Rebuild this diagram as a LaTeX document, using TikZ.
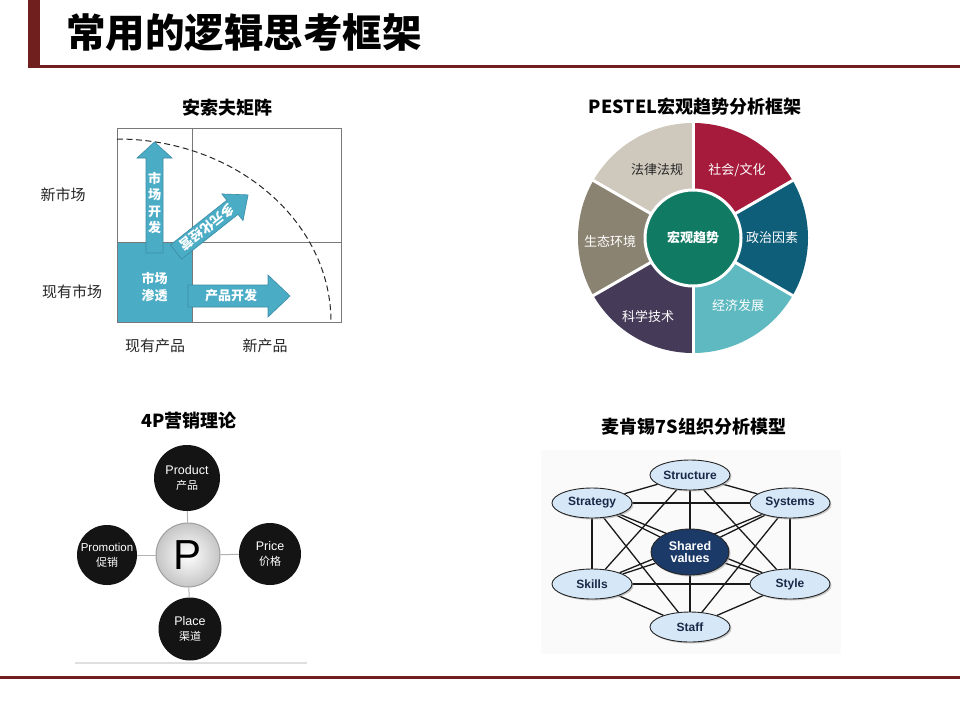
\documentclass[tikz,border=0pt]{standalone}
\usepackage{fontspec}
\setmainfont{Noto Sans CJK SC}
\newfontfamily\cjk{Noto Sans CJK SC}
\newfontfamily\arialf{Liberation Sans}
\usetikzlibrary{shapes.geometric,shadows,backgrounds}
\pgfdeclarelayer{back}
\pgfdeclarelayer{lines}
\pgfsetlayers{back,lines,main}
\definecolor{darkred}{RGB}{112,30,30}
\definecolor{ansoff}{RGB}{75,172,198}
\definecolor{ansoffd}{RGB}{58,140,166}
\definecolor{gridc}{RGB}{120,120,120}
\definecolor{plaw}{RGB}{206,200,189}
\definecolor{psoc}{RGB}{166,27,60}
\definecolor{ppol}{RGB}{14,94,122}
\definecolor{peco}{RGB}{94,185,192}
\definecolor{psci}{RGB}{69,58,88}
\definecolor{peng}{RGB}{139,131,114}
\definecolor{pgreen}{RGB}{16,122,98}
\definecolor{sfill}{RGB}{214,232,248}
\definecolor{snavy}{RGB}{27,58,104}
\definecolor{stext}{RGB}{25,40,70}
\begin{document}
\begin{tikzpicture}[x=1pt,y=-1pt,
  ttl/.style={font=\bfseries\fontsize{18}{20}\selectfont, text=black, inner sep=0},
  axlab/.style={font=\fontsize{15}{17}\selectfont, text=black!85, inner sep=0},
  wlab/.style={font=\bfseries\fontsize{13}{16.5}\selectfont, text=white, inner sep=0, align=center},
  plab/.style={font=\fontsize{13}{15}\selectfont, text=white, inner sep=0},
  arrowfill/.style={fill=ansoff, draw=ansoffd, line width=0.6pt},
  gridline/.style={draw=gridc, line width=0.8pt},
  blk/.style={circle, fill=black!92, minimum size=64pt, inner sep=0, align=center, text=white},
  conn4/.style={draw=gray!60, line width=1pt},
  seven/.style={ellipse, fill=sfill, draw=black!85, line width=0.9pt, minimum width=80pt, minimum height=30pt, inner sep=0,
     font=\arialf\bfseries\fontsize{12}{13}\selectfont, text=stext,
     drop shadow={shadow xshift=1.5pt, shadow yshift=-1.5pt, fill=gray!70, opacity=0.6}},
  conn7/.style={draw=black!90, line width=1.3pt}
]
\useasboundingbox (0,0) rectangle (960,720);
\begin{pgfonlayer}{back}
\fill[white] (0,0) rectangle (960,720);
\end{pgfonlayer}

% ===== header =====
\fill[darkred] (28,0) rectangle (40,67);
\fill[darkred] (28,64.5) rectangle (960,67.5);
\node[anchor=west, inner sep=0, font=\bfseries\fontsize{39.5}{41}\selectfont] (title) at (66,32.5) {常用的逻辑思考框架};
\fill[darkred] (0,676) rectangle (960,679);

% ===== Ansoff =====
\node[ttl] (t1) at (227,108) {安索夫矩阵};
\fill[ansoff] (117,242) rectangle (192,322);
\draw[gridline] (117,128) rectangle (341,322);
\draw[gridline] (192,128) -- (192,322);
\draw[gridline] (117,242) -- (341,242);
\draw[black!85, line width=1pt, dash pattern=on 6pt off 3.5pt] (117,139) arc[start angle=-90, end angle=0, x radius=214, y radius=183];
% up arrow
\filldraw[arrowfill] (146,253) -- (146,158) -- (137,158) -- (154.5,142) -- (172,158) -- (163,158) -- (163,253) -- cycle;
\node[wlab] (mkdev) at (154.5,203) {市\\场\\开\\发};
% right arrow
\filldraw[arrowfill] (188,285) -- (268,285) -- (268,275) -- (290,296) -- (268,317) -- (268,307) -- (188,307) -- cycle;
\node[wlab] (pddev) at (231,296) {产品开发};
% diagonal arrow
\begin{scope}[shift={(176,252)}, rotate=38.4]
\filldraw[arrowfill] (0,-9) -- (72,-9) -- (72,-17) -- (92,0) -- (72,17) -- (72,9) -- (0,9) -- cycle;
\end{scope}
\node[text=white, inner sep=0, font=\bfseries\fontsize{13}{14}\selectfont, rotate=218.4] (div) at (207,227.5) {多元化经营};
\node[wlab] (pen) at (154.5,287) {市场\\渗透};
\node[axlab] (nm) at (63,195) {新市场};
\node[axlab] (em) at (72,292) {现有市场};
\node[axlab] (ep) at (155,346) {现有产品};
\node[axlab] (np) at (265,346) {新产品};

% ===== PESTEL =====
\node[ttl] (t2) at (695,107) {PESTEL宏观趋势分析框架};
\coordinate (pc) at (693,238);
\foreach \a/\b/\c in {-90/-150/plaw, -30/-90/psoc, 30/-30/ppol, 90/30/peco, 150/90/psci, 210/150/peng}{
  \fill[\c] (pc) -- ++(\a:115) arc[start angle=\a, end angle=\b, radius=115] -- cycle;
}
\foreach \a in {-90,-30,30,90,150,210}{
  \draw[white, line width=3pt] (pc) -- ++(\a:117);
}
\node[circle, fill=pgreen, draw=white, line width=3pt, minimum size=96pt, inner sep=0,
  font=\bfseries\fontsize{13}{15}\selectfont, text=white] (pcn) at (pc) {宏观趋势};
\node[plab, text=black!85] (law) at (657,170) {法律法规};
\node[plab] (soc) at (737,170) {社会/文化};
\node[plab] (pol) at (772,238) {政治因素};
\node[plab] (eco) at (738,306) {经济发展};
\node[plab] (sci) at (648,317) {科学技术};
\node[plab] (env) at (610,242) {生态环境};

% ===== 4P =====
\node[ttl] (t3) at (189,421) {4P营销理论};
\node[circle, minimum size=64pt, inner sep=0, shade, inner color=white, outer color=gray!45, draw=gray!75, line width=1pt,
  font=\arialf\fontsize{42}{42}\selectfont] (P) at (188,555) {P};
\node[blk, minimum size=66pt] (prod) at (187,478) {{\arialf\fontsize{12.5}{14}\selectfont Product}\\[3pt]{\fontsize{11}{13}\selectfont 产品}};
\node[blk, minimum size=60pt] (promo) at (107,555) {{\arialf\fontsize{11.5}{13}\selectfont Promotion}\\[3pt]{\fontsize{11}{13}\selectfont 促销}};
\node[blk, minimum size=62pt] (price) at (270,554) {{\arialf\fontsize{12.5}{14}\selectfont Price}\\[3pt]{\fontsize{11}{13}\selectfont 价格}};
\node[blk, minimum size=63pt] (place) at (190,629) {{\arialf\fontsize{12.5}{14}\selectfont Place}\\[3pt]{\fontsize{11}{13}\selectfont 渠道}};
\draw[conn4] (P) -- (prod);
\draw[conn4] (P) -- (promo);
\draw[conn4] (P) -- (price);
\draw[conn4] (P) -- (place);
\draw[gray!25, line width=1.2pt] (75,663) -- (307,663);

% ===== 7S =====
\node[ttl] (t4) at (694,427) {麦肯锡7S组织分析模型};
\begin{pgfonlayer}{back}
\fill[gray!4] (541,450) rectangle (841,654);
\end{pgfonlayer}
\node[seven] (st) at (690,475) {Structure};
\node[seven] (sg) at (592,503) {Strategy};
\node[seven] (sy) at (790,503) {Systems};
\node[seven] (sk) at (592,584) {Skills};
\node[seven] (sl) at (790,584) {Style};
\node[seven] (sf) at (690,627) {Staff};
\node[seven, fill=snavy, text=white, minimum width=78pt, minimum height=46pt, align=center,
  font=\arialf\bfseries\fontsize{12.5}{12}\selectfont] (sv) at (690,552) {Shared\\values};
\begin{pgfonlayer}{lines}
\foreach \u/\v in {sg/st, st/sy, sg/sy, sg/sk, sy/sl, sk/sl, sk/sf, sl/sf, st/sk, st/sl, sg/sf, sy/sf, st/sf, sg/sl, sy/sk, sv/st, sv/sg, sv/sy, sv/sk, sv/sl, sv/sf}{
  \draw[conn7] (\u) -- (\v);
}
\end{pgfonlayer}
\end{tikzpicture}
\end{document}
